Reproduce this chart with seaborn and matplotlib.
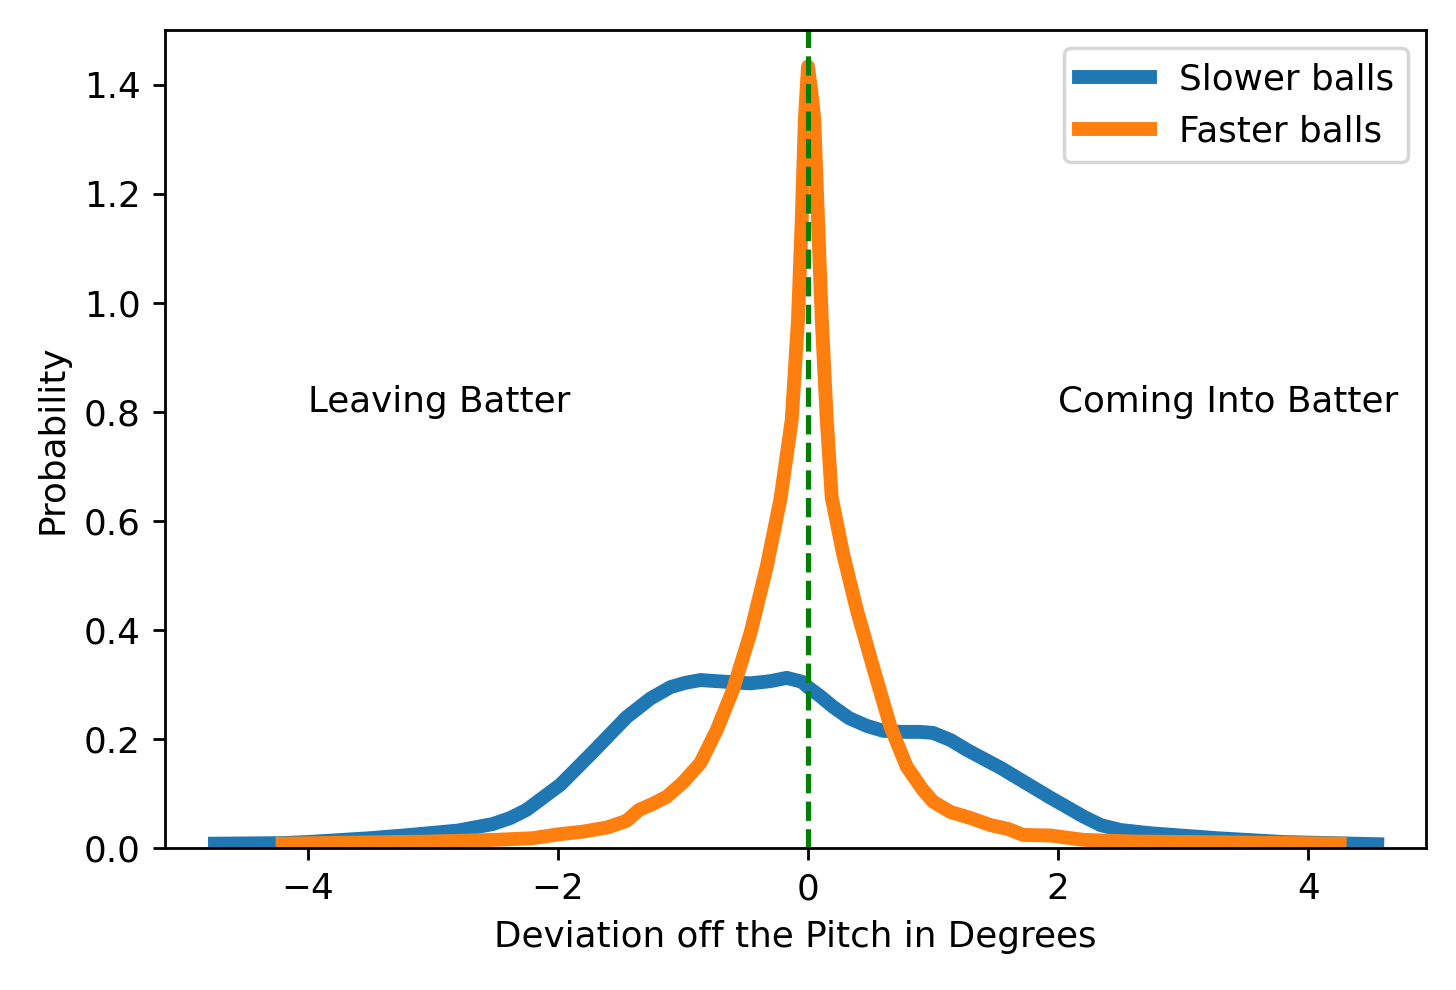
import numpy as np
import pandas as pd
from matplotlib import pyplot as plt
import seaborn as sns

# curve values (density of deviation in degrees)
slow_x = [-4.74, -4.2, -4.0, -3.5, -3.18, -2.8, -2.52, -2.38, -2.25, -1.98, -1.72, -1.45, -1.26, -1.1,
          -0.98, -0.86, -0.6, -0.46, -0.3, -0.17, -0.05, 0.0, 0.1, 0.2, 0.33, 0.47, 0.6, 0.74, 0.9,
          1.0, 1.14, 1.27, 1.54, 1.94, 2.2, 2.34, 2.5, 2.74, 3.27, 3.8, 4.55]
slow_y = [0.008, 0.009, 0.011, 0.018, 0.024, 0.032, 0.044, 0.055, 0.07, 0.116, 0.176, 0.24, 0.274, 0.295,
          0.303, 0.308, 0.304, 0.302, 0.306, 0.312, 0.305, 0.295, 0.278, 0.259, 0.238, 0.224, 0.215, 0.213, 0.213,
          0.211, 0.198, 0.18, 0.147, 0.092, 0.058, 0.042, 0.033, 0.027, 0.018, 0.011, 0.007]

fast_x = [-4.2, -3.0, -2.5, -2.2, -2.0, -1.8, -1.6, -1.45, -1.35, -1.25, -1.13, -1.0, -0.86,
          -0.73, -0.6, -0.46, -0.33, -0.22, -0.13, -0.08, -0.05, -0.025, 0.0, 0.03, 0.05, 0.08,
          0.11, 0.15, 0.19, 0.28, 0.39, 0.52, 0.66, 0.79, 0.92, 1.0, 1.14, 1.3, 1.46, 1.6, 1.72,
          1.94, 2.2, 2.6, 3.5, 4.25]
fast_y = [0.008, 0.012, 0.015, 0.018, 0.025, 0.03, 0.038, 0.05, 0.07, 0.08, 0.094, 0.12, 0.156,
          0.216, 0.29, 0.394, 0.516, 0.64, 0.785, 0.969, 1.152, 1.336, 1.433, 1.38, 1.336, 1.152,
          0.969, 0.785, 0.642, 0.54, 0.437, 0.332, 0.222, 0.149, 0.106, 0.085, 0.066, 0.055, 0.042, 0.035, 0.024,
          0.023, 0.015, 0.012, 0.010, 0.008]

labels = ['Slower balls', 'Faster balls']
side_text = ['Leaving Batter', 'Coming Into Batter']

slow = pd.DataFrame({'x': slow_x, 'y': slow_y})
fast = pd.DataFrame({'x': fast_x, 'y': fast_y})

plt.rc('font', size=10.3)

fig, ax = plt.subplots(figsize=(5.824, 3.96), dpi=250)
fig.subplots_adjust(left=0.1133, right=0.9794, top=0.9697, bottom=0.1434)

sns.lineplot(data=slow, x='x', y='y', color='#1f77b4', lw=4, label=labels[0], ax=ax)
sns.lineplot(data=fast, x='x', y='y', color='#ff7f0e', lw=4, label=labels[1], ax=ax)
ax.axvline(0, color='green', ls='--', lw=1.5)

ax.text(-4, 0.8, side_text[0])
ax.text(2, 0.8, side_text[1])

ax.set_xlim(-5.14, 4.94)
ax.set_ylim(0, 1.5)
ax.set_xlabel('Deviation off the Pitch in Degrees')
ax.set_ylabel('Probability')
ax.legend(loc='upper right')

plt.savefig('out.png', dpi=250)
